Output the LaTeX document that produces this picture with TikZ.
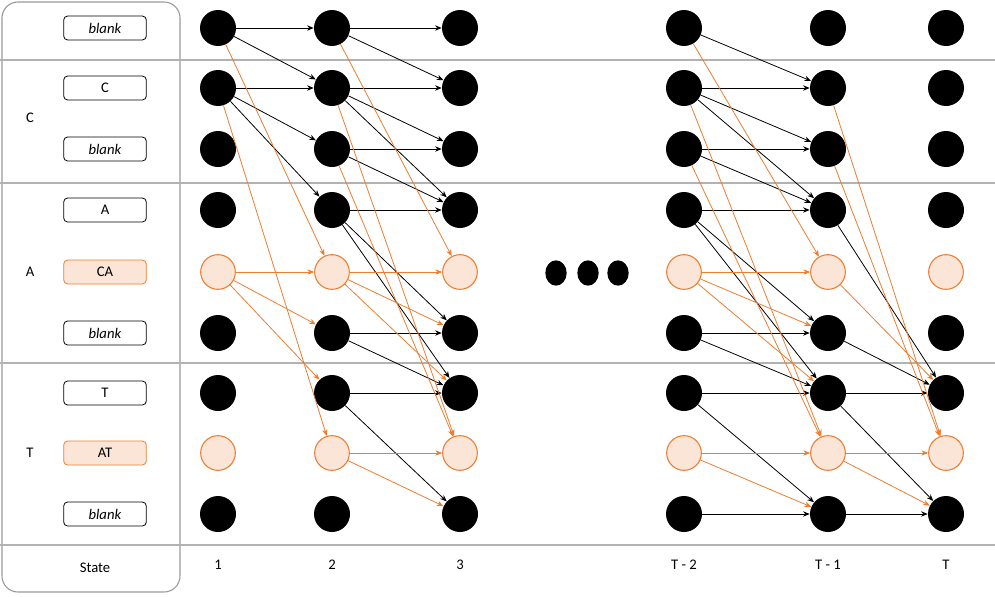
\documentclass[tikz,border=0pt]{standalone}
\usepackage{fontspec}
\setmainfont{Carlito}
\usetikzlibrary{arrows.meta,shapes.geometric}
\definecolor{org}{HTML}{ED7D31}
\definecolor{orgf}{HTML}{FBE5D6}
\begin{document}
\begin{tikzpicture}[x=0.75pt,y=-0.75pt,font=\fontsize{11}{13}\selectfont,
  bn/.style={circle,fill=black,minimum size=27pt,inner sep=0pt},
  on/.style={circle,fill=orgf,draw=org,line width=0.8pt,minimum size=26pt,inner sep=0pt},
  lb/.style={draw,rounded corners=3pt,minimum width=62pt,minimum height=18pt,inner sep=0pt,line width=0.6pt},
  olb/.style={lb,draw=org,fill=orgf},
  ka/.style={-{Stealth[length=5pt,width=4pt]},line width=0.6pt,black},
  oa/.style={-{Stealth[length=5pt,width=4pt]},line width=0.6pt,org},
  sep/.style={draw=black!30,line width=0.8pt}]
\useasboundingbox (0,0) rectangle (995,596);
\draw[black!40,line width=0.8pt,rounded corners=12pt] (2,2) rectangle (180,592);
\foreach \yy in {60,183,363,545} \draw[sep] (0,\yy) -- (995,\yy);
% labels
\foreach \yy/\t/\st [count=\i from 0] in {28/\textit{blank}/lb,88/C/lb,149/\textit{blank}/lb,210/A/lb,272/CA/olb,333/\textit{blank}/lb,393/T/lb,453/AT/olb,514/\textit{blank}/lb}{
  \node[\st] (l\i) at (105,\yy) {\t};
}
\node (gC) at (30,118) {C};
\node (gA) at (30,272) {A};
\node (gT) at (30,453) {T};
\node (st) at (95,568) {State};
% columns
\foreach \c/\xx/\lab in {1/218/1,2/332/2,3/460/3,a/684/T - 2,b/828/T - 1,c/946/T}{
  \node (h\c) at (\xx,565) {\lab};
  \foreach \yy [count=\r from 0] in {28,88,149,210,272,333,393,453,514}{
    \ifnum\r=4 \node[on] (n\c\r) at (\xx,\yy) {};
    \else\ifnum\r=7 \node[on] (n\c\r) at (\xx,\yy) {};
    \else \node[bn] (n\c\r) at (\xx,\yy) {};\fi\fi
  }
}
\foreach \xx [count=\k] in {556,588,618} \node[ellipse,fill=black,minimum width=16pt,minimum height=19pt,inner sep=0pt] (dot\k) at (\xx,273) {};
% edges col1->col2
\foreach \s/\d in {0/0,0/1,1/1,1/2,1/3} \draw[ka] (n1\s) -- (n2\d);
\foreach \s/\d in {0/4,1/7,4/4,4/5,4/6} \draw[oa] (n1\s) -- (n2\d);
% col2->col3
\foreach \s/\d in {0/0,0/1,1/1,1/2,1/3,2/2,2/3,3/3,3/5,3/6,5/5,5/6,6/6,6/8} \draw[ka] (n2\s) -- (n3\d);
\foreach \s/\d in {0/4,1/7,2/7,4/4,4/5,4/6,7/7,7/8} \draw[oa] (n2\s) -- (n3\d);
% T-2 -> T-1
\foreach \s/\d in {0/1,1/1,1/2,1/3,2/2,2/3,3/3,3/5,3/6,5/5,5/6,6/6,6/8,8/8} \draw[ka] (na\s) -- (nb\d);
\foreach \s/\d in {0/4,1/7,2/7,4/4,4/5,4/6,7/7,7/8} \draw[oa] (na\s) -- (nb\d);
% T-1 -> T
\foreach \s/\d in {3/6,5/6,6/6,6/8,8/8} \draw[ka] (nb\s) -- (nc\d);
\foreach \s/\d in {1/7,2/7,4/6,7/7,7/8} \draw[oa] (nb\s) -- (nc\d);
\end{tikzpicture}
\end{document}
